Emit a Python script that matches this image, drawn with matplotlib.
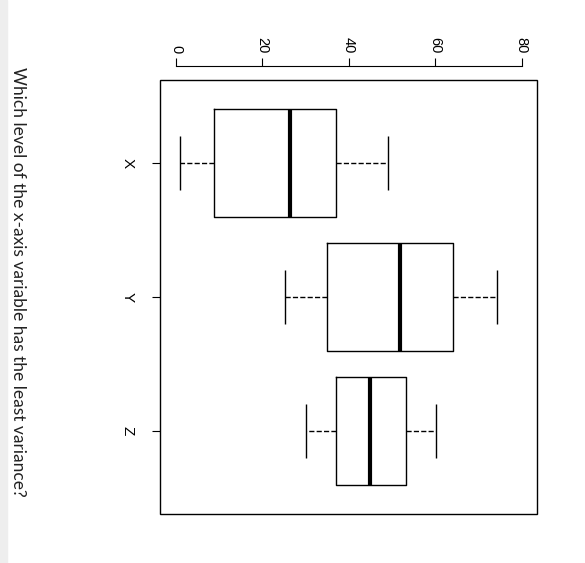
import matplotlib.pyplot as plt
from matplotlib.patches import Rectangle

plt.rcParams['font.family'] = ['Liberation Sans', 'DejaVu Sans']

labels = ['X', 'Y', 'Z']
whislo = [0.9, 25.2, 30.0]
q1 = [8.8, 34.9, 37.0]
med = [26.4, 51.8, 44.9]
q3 = [37.0, 64.0, 53.2]
whishi = [49.0, 74.2, 60.1]

stats = [dict(label=l, whislo=a, q1=b, med=c, q3=d, whishi=e)
         for l, a, b, c, d, e in zip(labels, whislo, q1, med, q3, whishi)]

fig = plt.figure(figsize=(5.85, 5.63), dpi=100)
ax = fig.add_axes([0.2735, 0.087, 0.6444, 0.771])
ax.bxp(stats, positions=[1, 2, 3], vert=False, widths=0.8, showfliers=False,
       boxprops=dict(color='black', linewidth=1),
       medianprops=dict(color='black', linewidth=3),
       whiskerprops=dict(color='black', linewidth=1, linestyle='--'),
       capprops=dict(color='black', linewidth=1), capwidths=0.0)
# caps as short vertical lines (R style)
for i, (lo, hi) in enumerate(zip(whislo, whishi)):
    ax.vlines([lo, hi], i + 1 - 0.2, i + 1 + 0.2, color='black', linewidth=1)

ax.set_xlim(-3.7, 83.5)
ax.set_ylim(3.62, 0.38)

for s in ['bottom', 'right']:
    ax.spines[s].set_visible(False)
ax.spines['top'].set_position(('outward', 10))
ax.spines['top'].set_bounds(0, 80)
ax.spines['left'].set_visible(False)
ax.add_patch(Rectangle((0, 0), 1, 1, transform=ax.transAxes, fill=False,
                       edgecolor='black', linewidth=1, clip_on=False))

ax.xaxis.tick_top()
ax.set_xticks([0, 20, 40, 60, 80])
ax.set_xticklabels(['0', '20', '40', '60', '80'], rotation=-90, fontsize=10.5)
ax.tick_params(axis='x', length=6, pad=3)
ax.set_yticks([1, 2, 3])
ax.set_yticklabels(labels, rotation=-90, fontsize=11, va='center')
ax.tick_params(axis='y', length=6, pad=12)

fig.patches.append(Rectangle((0, 0), 0.012, 1, transform=fig.transFigure,
                             color='#eeeeee', zorder=-1))
fig.text(0.03, 0.5, 'Which level of the x-axis variable has the least variance?',
         rotation=-90, fontsize=12.5, va='center', ha='center', color='#222222',
         family=['Lato', 'DejaVu Sans'])

fig.savefig('out.png', dpi=100)
